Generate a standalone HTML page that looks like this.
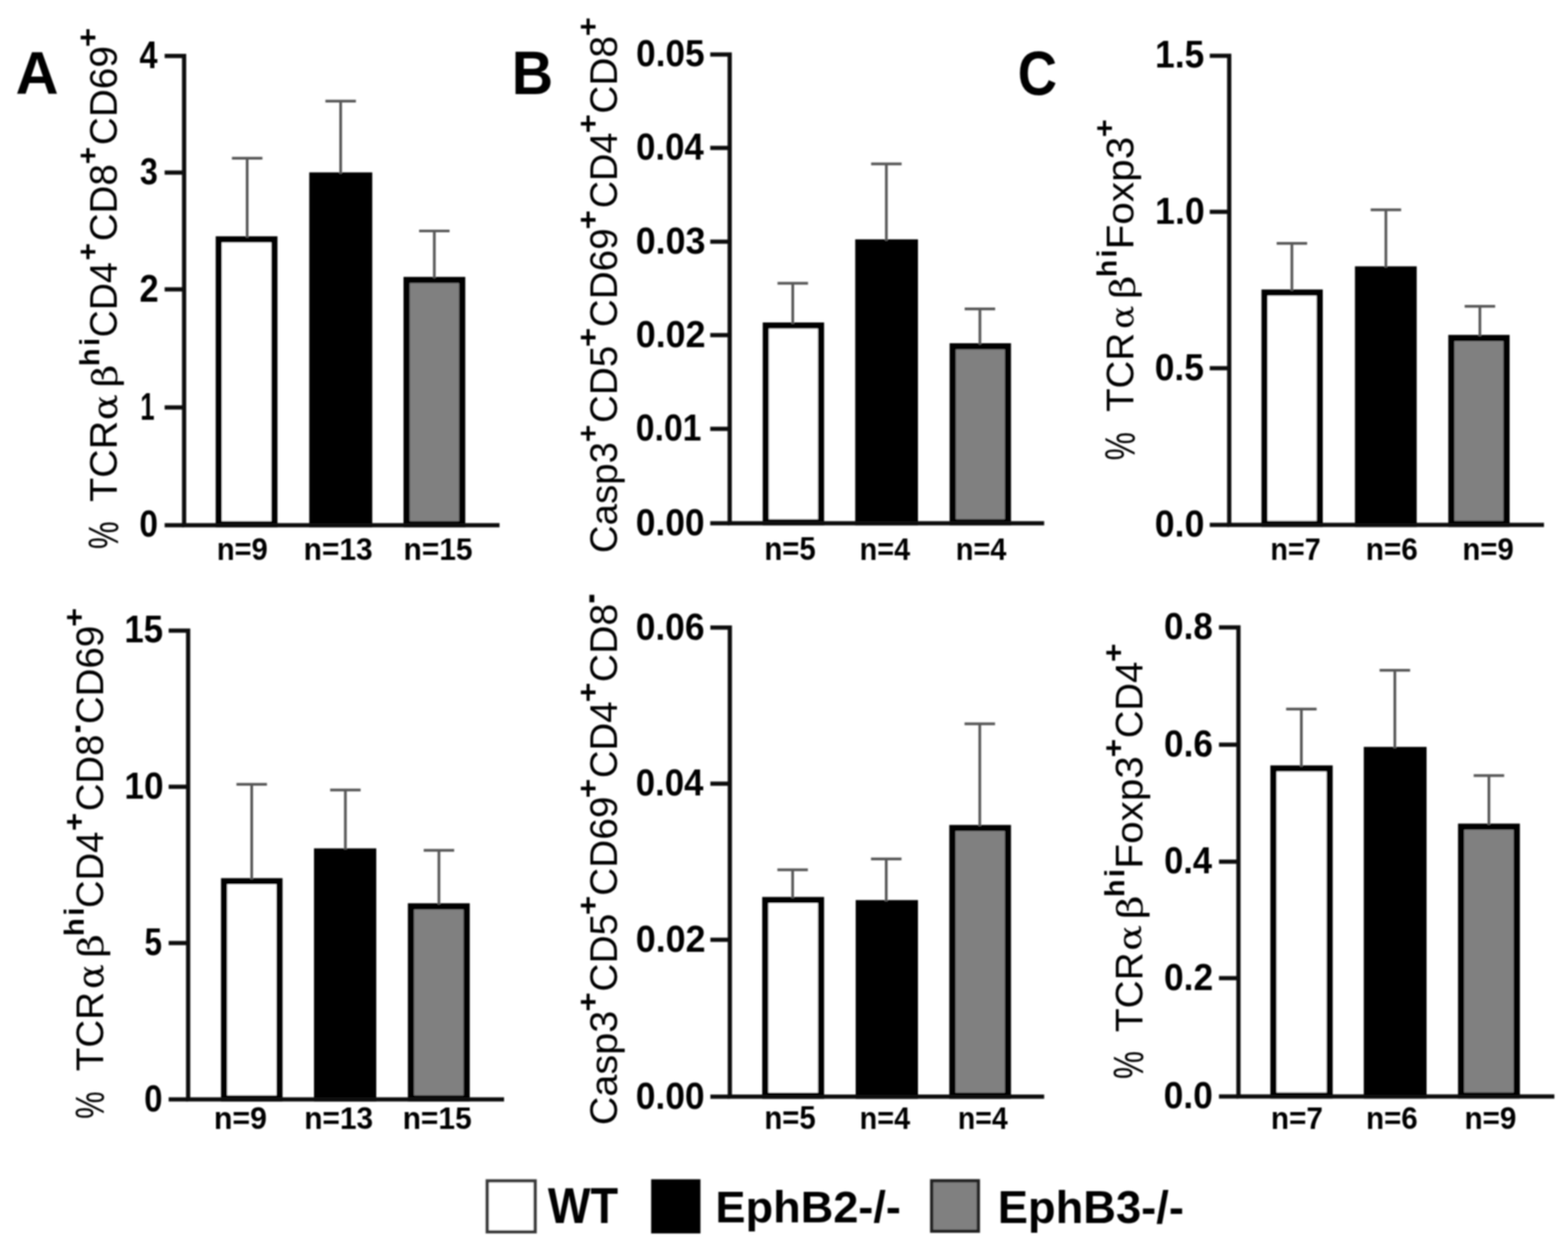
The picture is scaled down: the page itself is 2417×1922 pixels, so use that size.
<!DOCTYPE html>
<html><head><meta charset="utf-8"><title>EphB2/EphB3 thymocyte bar charts</title>
<style>
html,body{margin:0;padding:0;background:#fff;}
svg{display:block;}
text{fill:#000;}
.s{font-family:"Liberation Sans", Arial, Helvetica, sans-serif;}
.g{font-family:"DejaVu Serif", "Liberation Serif", serif;}
</style></head><body>
<svg width="2417" height="1922" viewBox="0 0 2417 1922">
<defs><filter id="soft" x="0" y="0" width="100%" height="100%" filterUnits="userSpaceOnUse"><feGaussianBlur stdDeviation="0.9"/></filter></defs>
<rect width="2417" height="1922" fill="#fff"/>
<g filter="url(#soft)">
<g>
<rect x="337.25" y="368.95" width="85.7" height="439.05" fill="#ffffff" stroke="#000" stroke-width="9.5"/>
<rect x="481.45" y="270.45" width="87.6" height="537.55" fill="#000000" stroke="#000" stroke-width="9.5"/>
<rect x="626.75" y="431.55" width="85.7" height="376.45" fill="#808080" stroke="#000" stroke-width="9.5"/>
<path d="M381 366.2V243.8M357.5 243.8H404.5" stroke="#595959" stroke-width="4.2" fill="none"/>
<path d="M525.1 267.7V155.9M501.6 155.9H548.6" stroke="#595959" stroke-width="4.2" fill="none"/>
<path d="M669.5 428.8V356M646 356H693" stroke="#595959" stroke-width="4.2" fill="none"/>
<path d="M253.8 86.2H283.8V809.5H770" stroke="#0b0b0b" stroke-width="6.5" fill="none"/>
<path d="M253.8 809.5H283.8" stroke="#0b0b0b" stroke-width="6.5"/>
<path d="M253.8 266H283.8" stroke="#0b0b0b" stroke-width="6.5"/>
<path d="M253.8 446H283.8" stroke="#0b0b0b" stroke-width="6.5"/>
<path d="M253.8 628H283.8" stroke="#0b0b0b" stroke-width="6.5"/>
<text class="s" transform="translate(215.05 104.8) scale(0.8441 1)" font-size="59.35" font-weight="bold" >4</text>
<text class="s" transform="translate(215.69 284.08) scale(0.8605 1)" font-size="57.46" font-weight="bold" >3</text>
<text class="s" transform="translate(214.94 464.8) scale(0.9082 1)" font-size="58.49" font-weight="bold" >2</text>
<text class="s" transform="translate(216.33 646.8) scale(0.6668 1)" font-size="59.35" font-weight="bold" >1</text>
<text class="s" transform="translate(214.73 827.22) scale(0.8981 1)" font-size="57.67" font-weight="bold" >0</text>
<text class="s" transform="translate(334.18 863.3) scale(0.9165 1)" font-size="49" font-weight="bold">n=9</text>
<text class="s" transform="translate(468.1 863.3) scale(0.9413 1)" font-size="49" font-weight="bold">n=13</text>
<text class="s" transform="translate(622.1 863.3) scale(0.9409 1)" font-size="49" font-weight="bold">n=15</text>
</g>
<g>
<rect x="1180.45" y="501.75" width="85.1" height="303.25" fill="#ffffff" stroke="#000" stroke-width="9.5"/>
<rect x="1323.05" y="373.65" width="87.2" height="431.35" fill="#000000" stroke="#000" stroke-width="9.5"/>
<rect x="1468.55" y="533.75" width="85.1" height="271.25" fill="#808080" stroke="#000" stroke-width="9.5"/>
<path d="M1222 499V436.6M1198.5 436.6H1245.5" stroke="#595959" stroke-width="4.2" fill="none"/>
<path d="M1366.3 370.9V252.6M1342.8 252.6H1389.8" stroke="#595959" stroke-width="4.2" fill="none"/>
<path d="M1510.5 531V476.1M1487 476.1H1534" stroke="#595959" stroke-width="4.2" fill="none"/>
<path d="M1094.8 84H1124.8V806.5H1609.5" stroke="#0b0b0b" stroke-width="6.5" fill="none"/>
<path d="M1094.8 806.5H1124.8" stroke="#0b0b0b" stroke-width="6.5"/>
<path d="M1094.8 228H1124.8" stroke="#0b0b0b" stroke-width="6.5"/>
<path d="M1094.8 372.5H1124.8" stroke="#0b0b0b" stroke-width="6.5"/>
<path d="M1094.8 516.5H1124.8" stroke="#0b0b0b" stroke-width="6.5"/>
<path d="M1094.8 661H1124.8" stroke="#0b0b0b" stroke-width="6.5"/>
<text class="s" transform="translate(980.53 102.22) scale(0.9402 1)" font-size="57.67" font-weight="bold" >0.05</text>
<text class="s" transform="translate(980.56 246.22) scale(0.9291 1)" font-size="57.67" font-weight="bold" >0.04</text>
<text class="s" transform="translate(979.89 390.58) scale(0.9613 1)" font-size="57.46" font-weight="bold" >0.03</text>
<text class="s" transform="translate(979.88 534.72) scale(0.9605 1)" font-size="57.67" font-weight="bold" >0.02</text>
<text class="s" transform="translate(980.02 679.22) scale(0.9024 1)" font-size="57.67" font-weight="bold" >0.01</text>
<text class="s" transform="translate(979.91 825.22) scale(0.9475 1)" font-size="57.67" font-weight="bold" >0.00</text>
<text class="s" transform="translate(1178.16 863.3) scale(0.9222 1)" font-size="49" font-weight="bold">n=5</text>
<text class="s" transform="translate(1325.11 863.3) scale(0.9074 1)" font-size="49" font-weight="bold">n=4</text>
<text class="s" transform="translate(1473.2 863.3) scale(0.9111 1)" font-size="49" font-weight="bold">n=4</text>
</g>
<g>
<rect x="1949.25" y="450.95" width="85" height="356.55" fill="#ffffff" stroke="#000" stroke-width="9.5"/>
<rect x="2093.35" y="415.25" width="85.7" height="392.25" fill="#000000" stroke="#000" stroke-width="9.5"/>
<rect x="2237.25" y="520.95" width="85" height="286.55" fill="#808080" stroke="#000" stroke-width="9.5"/>
<path d="M1991.4 448.2V375.2M1967.9 375.2H2014.9" stroke="#595959" stroke-width="4.2" fill="none"/>
<path d="M2136.3 412.5V323.3M2112.8 323.3H2159.8" stroke="#595959" stroke-width="4.2" fill="none"/>
<path d="M2281.2 518.2V472.2M2257.7 472.2H2304.7" stroke="#595959" stroke-width="4.2" fill="none"/>
<path d="M1864.8 86H1894.8V809H2380" stroke="#0b0b0b" stroke-width="6.5" fill="none"/>
<path d="M1864.8 809H1894.8" stroke="#0b0b0b" stroke-width="6.5"/>
<path d="M1864.8 326.5H1894.8" stroke="#0b0b0b" stroke-width="6.5"/>
<path d="M1864.8 567.5H1894.8" stroke="#0b0b0b" stroke-width="6.5"/>
<text class="s" transform="translate(1780.6 104.22) scale(0.9311 1)" font-size="58.49" font-weight="bold" >1.5</text>
<text class="s" transform="translate(1780.56 344.72) scale(0.9536 1)" font-size="57.67" font-weight="bold" >1.0</text>
<text class="s" transform="translate(1780.02 585.72) scale(0.9454 1)" font-size="57.67" font-weight="bold" >0.5</text>
<text class="s" transform="translate(1780 827.22) scale(0.9544 1)" font-size="57.67" font-weight="bold" >0.0</text>
<text class="s" transform="translate(1958.33 863.3) scale(0.9021 1)" font-size="49" font-weight="bold">n=7</text>
<text class="s" transform="translate(2105.22 863.3) scale(0.9351 1)" font-size="49" font-weight="bold">n=6</text>
<text class="s" transform="translate(2254.26 863.3) scale(0.9227 1)" font-size="49" font-weight="bold">n=9</text>
</g>
<g>
<rect x="345.45" y="1358.25" width="85.3" height="334.75" fill="#ffffff" stroke="#000" stroke-width="9.5"/>
<rect x="488.75" y="1312.35" width="86.5" height="380.65" fill="#000000" stroke="#000" stroke-width="9.5"/>
<rect x="633.45" y="1396.95" width="85.9" height="296.05" fill="#808080" stroke="#000" stroke-width="9.5"/>
<path d="M388 1355.5V1208.9M364.5 1208.9H411.5" stroke="#595959" stroke-width="4.2" fill="none"/>
<path d="M532.4 1309.6V1217.7M508.9 1217.7H555.9" stroke="#595959" stroke-width="4.2" fill="none"/>
<path d="M676.6 1394.2V1310.7M653.1 1310.7H700.1" stroke="#595959" stroke-width="4.2" fill="none"/>
<path d="M260 972H290V1694.5H777" stroke="#0b0b0b" stroke-width="6.5" fill="none"/>
<path d="M260 1694.5H290" stroke="#0b0b0b" stroke-width="6.5"/>
<path d="M260 1212.7H290" stroke="#0b0b0b" stroke-width="6.5"/>
<path d="M260 1453.5H290" stroke="#0b0b0b" stroke-width="6.5"/>
<text class="s" transform="translate(191.75 990.22) scale(0.9168 1)" font-size="58.49" font-weight="bold" >15</text>
<text class="s" transform="translate(191.71 1230.92) scale(0.9415 1)" font-size="57.67" font-weight="bold" >10</text>
<text class="s" transform="translate(222.85 1471.72) scale(0.8281 1)" font-size="58.49" font-weight="bold" >5</text>
<text class="s" transform="translate(222.27 1712.72) scale(0.8798 1)" font-size="57.67" font-weight="bold" >0</text>
<text class="s" transform="translate(329.66 1739.5) scale(0.9536 1)" font-size="49" font-weight="bold">n=9</text>
<text class="s" transform="translate(469.01 1739.5) scale(0.9394 1)" font-size="49" font-weight="bold">n=13</text>
<text class="s" transform="translate(620.7 1739.5) scale(0.9409 1)" font-size="49" font-weight="bold">n=15</text>
</g>
<g>
<rect x="1179.65" y="1387.25" width="85.9" height="301.55" fill="#ffffff" stroke="#000" stroke-width="9.5"/>
<rect x="1323.75" y="1392.05" width="86.5" height="296.75" fill="#000000" stroke="#000" stroke-width="9.5"/>
<rect x="1468.05" y="1276.25" width="85.6" height="412.55" fill="#808080" stroke="#000" stroke-width="9.5"/>
<path d="M1221.8 1384.5V1340.7M1198.3 1340.7H1245.3" stroke="#595959" stroke-width="4.2" fill="none"/>
<path d="M1366.1 1389.3V1323.9M1342.6 1323.9H1389.6" stroke="#595959" stroke-width="4.2" fill="none"/>
<path d="M1510.3 1273.5V1115.7M1486.8 1115.7H1533.8" stroke="#595959" stroke-width="4.2" fill="none"/>
<path d="M1095 967.3H1125V1690.3H1609.5" stroke="#0b0b0b" stroke-width="6.5" fill="none"/>
<path d="M1095 1690.3H1125" stroke="#0b0b0b" stroke-width="6.5"/>
<path d="M1095 1207.9H1125" stroke="#0b0b0b" stroke-width="6.5"/>
<path d="M1095 1448.5H1125" stroke="#0b0b0b" stroke-width="6.5"/>
<text class="s" transform="translate(979.92 985.52) scale(0.9449 1)" font-size="57.67" font-weight="bold" >0.06</text>
<text class="s" transform="translate(979.95 1226.12) scale(0.93 1)" font-size="57.67" font-weight="bold" >0.04</text>
<text class="s" transform="translate(979.88 1466.72) scale(0.9605 1)" font-size="57.67" font-weight="bold" >0.02</text>
<text class="s" transform="translate(979.91 1708.52) scale(0.9475 1)" font-size="57.67" font-weight="bold" >0.00</text>
<text class="s" transform="translate(1178.16 1739.5) scale(0.9222 1)" font-size="49" font-weight="bold">n=5</text>
<text class="s" transform="translate(1325.11 1739.5) scale(0.9074 1)" font-size="49" font-weight="bold">n=4</text>
<text class="s" transform="translate(1476.55 1739.5) scale(0.8941 1)" font-size="49" font-weight="bold">n=4</text>
</g>
<g>
<rect x="1962.95" y="1184.45" width="86.6" height="504.05" fill="#ffffff" stroke="#000" stroke-width="9.5"/>
<rect x="2106.95" y="1155.95" width="87.3" height="532.55" fill="#000000" stroke="#000" stroke-width="9.5"/>
<rect x="2252.25" y="1274.15" width="85.8" height="414.35" fill="#808080" stroke="#000" stroke-width="9.5"/>
<path d="M2006 1181.7V1092.9M1982.5 1092.9H2029.5" stroke="#595959" stroke-width="4.2" fill="none"/>
<path d="M2150.1 1153.2V1033.2M2126.6 1033.2H2173.6" stroke="#595959" stroke-width="4.2" fill="none"/>
<path d="M2295.1 1271.4V1195.3M2271.6 1195.3H2318.6" stroke="#595959" stroke-width="4.2" fill="none"/>
<path d="M1879 967H1909V1690H2396" stroke="#0b0b0b" stroke-width="6.5" fill="none"/>
<path d="M1879 1690H1909" stroke="#0b0b0b" stroke-width="6.5"/>
<path d="M1879 1147.8H1909" stroke="#0b0b0b" stroke-width="6.5"/>
<path d="M1879 1328.1H1909" stroke="#0b0b0b" stroke-width="6.5"/>
<path d="M1879 1507.6H1909" stroke="#0b0b0b" stroke-width="6.5"/>
<text class="s" transform="translate(1794.34 985.22) scale(0.938 1)" font-size="57.67" font-weight="bold" >0.8</text>
<text class="s" transform="translate(1794.33 1166.02) scale(0.9415 1)" font-size="57.67" font-weight="bold" >0.6</text>
<text class="s" transform="translate(1794.38 1346.32) scale(0.9205 1)" font-size="57.67" font-weight="bold" >0.4</text>
<text class="s" transform="translate(1794.32 1525.82) scale(0.9451 1)" font-size="57.67" font-weight="bold" >0.2</text>
<text class="s" transform="translate(1793.82 1708.22) scale(0.9451 1)" font-size="57.67" font-weight="bold" >0.0</text>
<text class="s" transform="translate(1959.02 1739.5) scale(0.9356 1)" font-size="49" font-weight="bold">n=7</text>
<text class="s" transform="translate(2105.65 1739.5) scale(0.9276 1)" font-size="49" font-weight="bold">n=6</text>
<text class="s" transform="translate(2257.43 1739.5) scale(0.9326 1)" font-size="49" font-weight="bold">n=9</text>
</g>
<g class="t" id="tA1"><text transform="translate(182.18 846.28) rotate(-90) scale(0.7393 1)" font-size="64.86" font-weight="normal" class="s">%</text><text transform="translate(180.4 773.57) rotate(-90) scale(1.0151 1)" font-size="60" font-weight="normal" class="s">TCR</text><text transform="translate(180.06 647.66) rotate(-90) scale(1.1532 1)" font-size="51.38" font-weight="normal" class="g">α</text><text transform="translate(180.3 597.08) rotate(-90) scale(1.1501 1)" font-size="52.54" font-weight="normal" class="g">β</text><text transform="translate(153.01 564.46) rotate(-90) scale(1.0633 1)" font-size="42.5" font-weight="bold" class="s" letter-spacing="3.5">hi</text><text transform="translate(180.4 519.9) rotate(-90) scale(0.9666 1)" font-size="60" font-weight="normal" class="s">CD4</text><text transform="translate(151.4 401.45) rotate(-90) scale(1.0292 1)" font-size="44.5" font-weight="bold" class="s">+</text><text transform="translate(180.4 371.77) rotate(-90) scale(0.99 1)" font-size="60" font-weight="normal" class="s">CD8</text><text transform="translate(151.4 253.25) rotate(-90) scale(1.0292 1)" font-size="44.5" font-weight="bold" class="s">+</text><text transform="translate(180.4 223.69) rotate(-90) scale(0.9953 1)" font-size="60" font-weight="normal" class="s">CD69</text><text transform="translate(151.4 72.67) rotate(-90) scale(1.1461 1)" font-size="44.5" font-weight="bold" class="s">+</text></g>
<g class="t" id="tA2"><text transform="translate(159.79 1724.47) rotate(-90) scale(0.7553 1)" font-size="63" font-weight="normal" class="s">%</text><text transform="translate(159.2 1650.94) rotate(-90) scale(0.9908 1)" font-size="60" font-weight="normal" class="s">TCR</text><text transform="translate(158.51 1524.22) rotate(-90) scale(1.0145 1)" font-size="55.6" font-weight="normal" class="g">α</text><text transform="translate(159.35 1476.37) rotate(-90) scale(1.191 1)" font-size="53.26" font-weight="normal" class="g">β</text><text transform="translate(129.41 1443.08) rotate(-90) scale(1.0689 1)" font-size="42.5" font-weight="bold" class="s" letter-spacing="3.5">hi</text><text transform="translate(159.2 1399.54) rotate(-90) scale(0.9814 1)" font-size="60" font-weight="normal" class="s">CD4</text><text transform="translate(130.2 1280.64) rotate(-90) scale(1.0787 1)" font-size="44.5" font-weight="bold" class="s">+</text><text transform="translate(159.2 1250.35) rotate(-90) scale(0.9838 1)" font-size="60" font-weight="normal" class="s">CD8</text><text transform="translate(136.8 1129.82) rotate(-90) scale(0.8641 1.45)" font-size="44" font-weight="bold" class="s">-</text><text transform="translate(159.2 1116.07) rotate(-90) scale(0.9892 1)" font-size="60" font-weight="normal" class="s">CD69</text><text transform="translate(130.2 966.02) rotate(-90) scale(1.1191 1)" font-size="44.5" font-weight="bold" class="s">+</text></g>
<g class="t" id="tB1"><text transform="translate(951 852.46) rotate(-90) scale(0.9872 1)" font-size="60" font-weight="normal" class="s">Casp3</text><text transform="translate(922 681.55) rotate(-90) scale(1.0337 1)" font-size="44.5" font-weight="bold" class="s">+</text><text transform="translate(951 651.98) rotate(-90) scale(0.993 1)" font-size="60" font-weight="normal" class="s">CD5</text><text transform="translate(922 534.88) rotate(-90) scale(1.1506 1)" font-size="44.5" font-weight="bold" class="s">+</text><text transform="translate(951 504.18) rotate(-90) scale(0.9925 1)" font-size="60" font-weight="normal" class="s">CD69</text><text transform="translate(922 353.68) rotate(-90) scale(1.1506 1)" font-size="44.5" font-weight="bold" class="s">+</text><text transform="translate(951 321.12) rotate(-90) scale(0.9744 1)" font-size="60" font-weight="normal" class="s">CD4</text><text transform="translate(922 205.56) rotate(-90) scale(1.1416 1)" font-size="44.5" font-weight="bold" class="s">+</text><text transform="translate(951 175.3) rotate(-90) scale(0.9987 1)" font-size="60" font-weight="normal" class="s">CD8</text><text transform="translate(922 56.05) rotate(-90) scale(1.1371 1)" font-size="44.5" font-weight="bold" class="s">+</text></g>
<g class="t" id="tB2"><text transform="translate(951 1734.25) rotate(-90) scale(1.0182 1)" font-size="60" font-weight="normal" class="s">Casp3</text><text transform="translate(922 1559.18) rotate(-90) scale(1.1506 1)" font-size="44.5" font-weight="bold" class="s">+</text><text transform="translate(951 1528.51) rotate(-90) scale(1.0017 1)" font-size="60" font-weight="normal" class="s">CD5</text><text transform="translate(922 1410.48) rotate(-90) scale(1.1506 1)" font-size="44.5" font-weight="bold" class="s">+</text><text transform="translate(951 1380.69) rotate(-90) scale(0.998 1)" font-size="60" font-weight="normal" class="s">CD69</text><text transform="translate(922 1230.18) rotate(-90) scale(1.1551 1)" font-size="44.5" font-weight="bold" class="s">+</text><text transform="translate(951 1199.36) rotate(-90) scale(0.9866 1)" font-size="60" font-weight="normal" class="s">CD4</text><text transform="translate(922 1082.43) rotate(-90) scale(1.1775 1)" font-size="44.5" font-weight="bold" class="s">+</text><text transform="translate(951 1051.42) rotate(-90) scale(1.0066 1)" font-size="60" font-weight="normal" class="s">CD8</text><text transform="translate(928.6 930.12) rotate(-90) scale(1.0351 1.45)" font-size="44" font-weight="bold" class="s">-</text></g>
<g class="t" id="tC1"><text transform="translate(1749.38 709.61) rotate(-90) scale(0.7592 1)" font-size="64.29" font-weight="normal" class="s">%</text><text transform="translate(1747.4 634.83) rotate(-90) scale(0.9882 1)" font-size="60" font-weight="normal" class="s">TCR</text><text transform="translate(1747.38 506.74) rotate(-90) scale(1.0563 1)" font-size="49.91" font-weight="normal" class="g">α</text><text transform="translate(1748.51 460.71) rotate(-90) scale(1.1817 1)" font-size="52.96" font-weight="normal" class="g">β</text><text transform="translate(1720.51 426.95) rotate(-90) scale(1.0236 1)" font-size="42.5" font-weight="bold" class="s" letter-spacing="3.5">hi</text><text transform="translate(1747.4 384.24) rotate(-90) scale(1.0393 1)" font-size="60" font-weight="normal" class="s">Foxp3</text><text transform="translate(1718.4 211.61) rotate(-90) scale(1.0652 1)" font-size="44.5" font-weight="bold" class="s">+</text></g>
<g class="t" id="tC2"><text transform="translate(1762.18 1663.1) rotate(-90) scale(0.7502 1)" font-size="64.57" font-weight="normal" class="s">%</text><text transform="translate(1761 1590.65) rotate(-90) scale(0.9966 1)" font-size="60" font-weight="normal" class="s">TCR</text><text transform="translate(1759.46 1465.55) rotate(-90) scale(1.1508 1)" font-size="51.19" font-weight="normal" class="g">α</text><text transform="translate(1761.14 1416.77) rotate(-90) scale(1.1797 1)" font-size="53.78" font-weight="normal" class="g">β</text><text transform="translate(1732.81 1382.4) rotate(-90) scale(1.0434 1)" font-size="42.5" font-weight="bold" class="s" letter-spacing="3.5">hi</text><text transform="translate(1761 1338.64) rotate(-90) scale(1.038 1)" font-size="60" font-weight="normal" class="s">Foxp3</text><text transform="translate(1732 1167.18) rotate(-90) scale(1.1011 1)" font-size="44.5" font-weight="bold" class="s">+</text><text transform="translate(1761 1137.85) rotate(-90) scale(0.9848 1)" font-size="60" font-weight="normal" class="s">CD4</text><text transform="translate(1732 1020.18) rotate(-90) scale(1.1011 1)" font-size="44.5" font-weight="bold" class="s">+</text></g>
<text class="s" transform="translate(24.01 144.2) scale(0.9845 1)" font-size="93.24" font-weight="bold" >A</text>
<text class="s" transform="translate(788.82 144.9) scale(0.9334 1)" font-size="94.84" font-weight="bold" >B</text>
<text class="s" transform="translate(1568.84 146.04) scale(0.8737 1)" font-size="96.11" font-weight="bold" >C</text>
<rect x="751.1" y="1820.1" width="73.8" height="78.5" fill="#fff" stroke="#3a3a3a" stroke-width="5"/>
<rect x="1003.7" y="1817.6" width="76" height="83.5" fill="#000"/>
<rect x="1436.1" y="1819.9" width="72" height="77.7" fill="#808080" stroke="#222" stroke-width="5"/>
<text class="s" transform="translate(844.43 1885) scale(0.8947 1)" font-size="77.82" font-weight="bold" >WT</text>
<text class="s" transform="translate(1102.8 1884.44) scale(1.0119 1)" font-size="68.74" font-weight="bold" >EphB2-/-</text>
<text class="s" transform="translate(1537.88 1885.31) scale(1.0006 1)" font-size="69.81" font-weight="bold" >EphB3-/-</text>
</g>
</svg>
</body></html>
